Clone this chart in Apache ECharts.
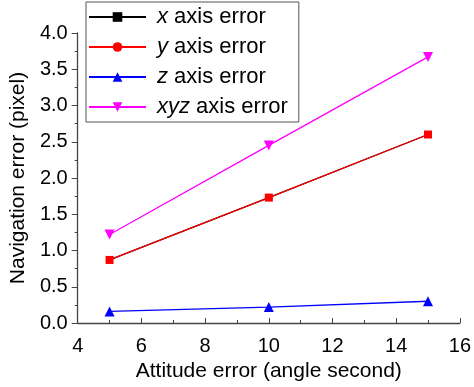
<!DOCTYPE html>
<html><head><meta charset="utf-8">
<script src="https://cdn.jsdelivr.net/npm/echarts@6/dist/echarts.min.js"></script>
<style>html,body{margin:0;padding:0;background:#fff}#c{width:474px;height:387px}</style>
</head><body><div id="c"></div>
<script>
const attitude = [5, 10, 15];
const xErr = [0.87, 1.73, 2.60];
const yErr = [0.87, 1.73, 2.60];
const zErr = [0.16, 0.22, 0.30];
const xyzErr = [1.22, 2.45, 3.67];
const xTicks = [4, 6, 8, 10, 12, 14, 16];
const yTicks = [0, 0.5, 1, 1.5, 2, 2.5, 3, 3.5, 4];
const seriesNames = ['x axis error', 'y axis error', 'z axis error', 'xyz axis error'];

const pts = (arr, extra) => attitude.map((a, i) => Object.assign({value: [a, arr[i]]}, extra || {}));
const F = 'Liberation Sans, Arial, sans-serif';
const chart = echarts.init(document.getElementById('c'));
const mk = (name, arr, color, symbol, size, rot, extra, z) => ({
  name, type: 'line', data: pts(arr, extra), z,
  symbol, symbolSize: size, symbolRotate: rot || 0,
  lineStyle: {color, width: 1.3}, itemStyle: {color},
  emphasis: {disabled: true}, animation: false
});
chart.setOption({
  animation: false,
  grid: {left: 70, right: 11, top: 33, bottom: 62},
  legend: {
    left: 86, top: 2, orient: 'vertical',
    padding: [3, 11, 3, 2], itemGap: 6, itemWidth: 57, itemHeight: 12,
    borderColor: '#555', borderWidth: 1,
    data: seriesNames,
    formatter: n => {
      const p = n.split(' ');
      return '{i|' + p[0] + '} ' + p.slice(1).join(' ');
    },
    textStyle: {fontFamily: F, fontSize: 22, color: '#000', padding: [0, 0, 0, 6], lineHeight: 24,
      rich: {i: {fontFamily: F, fontSize: 22, fontStyle: 'italic', color: '#000', lineHeight: 24}}}
  },
  xAxis: {
    type: 'value', min: xTicks[0], max: xTicks[xTicks.length - 1], interval: 2,
    name: 'Attitude error (angle second)', nameLocation: 'middle', nameGap: 38,
    nameTextStyle: {fontFamily: F, fontSize: 21, color: '#000'},
    axisLine: {lineStyle: {color: '#444', width: 1.3}},
    axisTick: {inside: true, length: 5, lineStyle: {color: '#444'}},
    minorTick: {show: true, splitNumber: 2, length: 3, lineStyle: {color: '#444'}},
    axisLabel: {fontFamily: F, fontSize: 20, color: '#000', margin: 13},
    splitLine: {show: false}
  },
  yAxis: {
    type: 'value', min: yTicks[0], max: yTicks[yTicks.length - 1], interval: 0.5,
    name: 'Navigation error (pixel)', nameLocation: 'middle', nameGap: 47,
    nameTextStyle: {fontFamily: F, fontSize: 21, color: '#000'},
    axisLine: {show: true, lineStyle: {color: '#444', width: 1.3}},
    axisTick: {show: true, inside: false, length: 6, lineStyle: {color: '#444'}},
    minorTick: {show: true, splitNumber: 2, length: 3, lineStyle: {color: '#444'}},
    axisLabel: {fontFamily: F, fontSize: 20, color: '#000', margin: 10,
      formatter: v => v.toFixed(1)},
    splitLine: {show: false}
  },
  series: [
    mk(seriesNames[0], xErr, '#000000', 'rect', 7, 0, null, 1),
    mk(seriesNames[1], yErr, '#ff0000', 'circle', 8, 0, {symbol: 'rect', symbolSize: 8}, 2),
    mk(seriesNames[2], zErr, '#0000ff', 'triangle', 10, 0, null, 3),
    mk(seriesNames[3], xyzErr, '#ff00ff', 'triangle', 10, 180, null, 4)
  ]
});
</script></body></html>
